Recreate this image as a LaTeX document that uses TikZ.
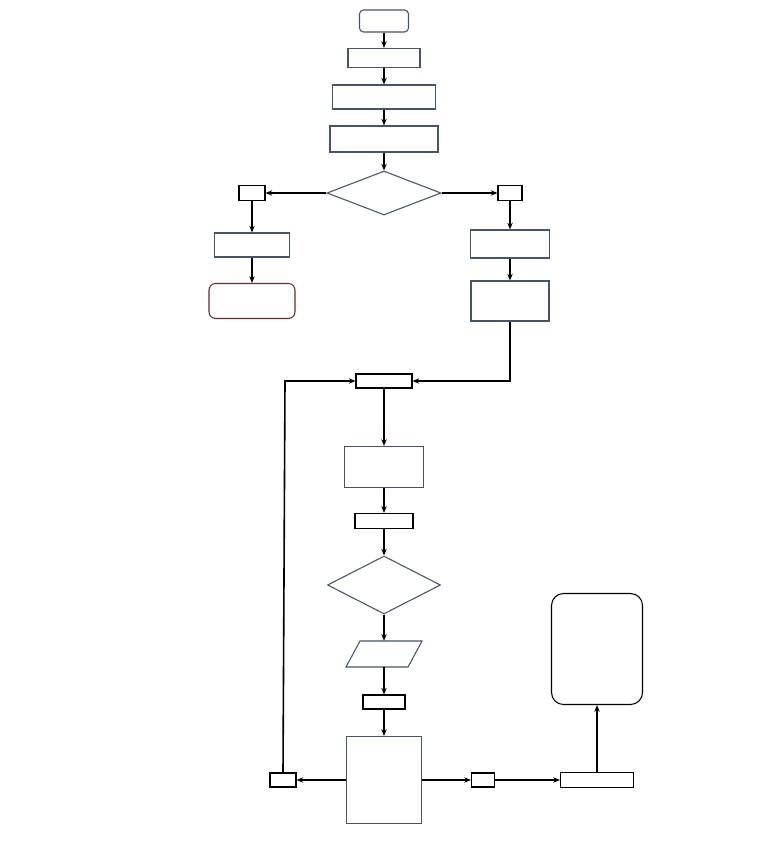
\documentclass[tikz,border=0pt]{standalone}
\usetikzlibrary{shapes.geometric,arrows.meta}
\definecolor{sl}{HTML}{44546A}
\definecolor{dr}{HTML}{6B2A2A}
\begin{document}
\begin{tikzpicture}[x=0.75pt,y=-0.75pt,
 bx/.style={draw=#1,line width=0.8pt,minimum width=0,minimum height=0,inner sep=0,rectangle,fill=white},
 bx/.default={sl},
 dm/.style={draw=sl,line width=0.8pt,diamond,aspect=2.6,inner sep=0,fill=white},
 ar/.style={-{Stealth[length=5pt,width=4pt]},line width=1.2pt}]
\useasboundingbox (0,0) rectangle (768,866);
\def\B#1#2#3#4#5{\node[bx,minimum width=#4*0.75pt,minimum height=#5*0.75pt] (#1) at (#2,#3) {};}
\node[bx=sl,rounded corners=3pt,minimum width=36.75pt,minimum height=16.5pt] (s) at (384,21) {};
\B{r1}{384}{58}{72}{19}
\B{r2}{384}{97}{103}{24}
\B{r3}{384}{139}{108}{26}
\node[dm,minimum width=85.5pt,minimum height=33pt] (d1) at (384,193) {};
\node[bx=black,minimum width=19.5pt,minimum height=11.25pt] (lb) at (252,193) {};
\node[bx=black,minimum width=18pt,minimum height=11.25pt] (rb) at (510,193) {};
\B{lr}{252}{245}{75}{24}
\node[bx=dr,rounded corners=5pt,minimum width=64.5pt,minimum height=26.25pt] (lrr) at (252,301) {};
\B{rr}{510}{244}{79}{28}
\B{rr2}{510}{301}{78}{40}
\node[bx=black,minimum width=42pt,minimum height=10.5pt] (j) at (384,381) {};
\B{m1}{384}{467}{79}{41}
\node[bx=black,minimum width=43.5pt,minimum height=11.25pt] (m2) at (384,521) {};
\node[dm,minimum width=84.75pt,minimum height=43.5pt] (d2) at (384,585) {};
\node[minimum width=42pt,minimum height=19.5pt,inner sep=0] (p) at (384,654) {};
\draw[draw=sl,line width=0.8pt] (360,641)--(422,641)--(408,667)--(346,667)--cycle;
\node[bx=black,minimum width=31.5pt,minimum height=10.5pt] (m3) at (384,702) {};
\B{t}{384}{780}{75}{87}
\node[bx=black,minimum width=19.5pt,minimum height=10.5pt] (tl) at (283,780) {};
\node[bx=black,minimum width=17.25pt,minimum height=10.5pt] (tr) at (483,780) {};
\node[bx=black,minimum width=54.75pt,minimum height=11.25pt] (tw) at (597,780) {};
\node[bx=black,rounded corners=9pt,minimum width=68.25pt,minimum height=83.25pt] (rt) at (597,649) {};
\draw[ar] (s)--(r1); \draw[ar] (r1)--(r2); \draw[ar] (r2)--(r3); \draw[ar] (r3)--(d1);
\draw[ar] (d1)--(lb); \draw[ar] (d1)--(rb);
\draw[ar] (lb)--(lr); \draw[ar] (lr)--(lrr);
\draw[ar] (rb)--(rr); \draw[ar] (rr)--(rr2);
\draw[ar] (rr2.south)--(510,381)--(j);
\draw[ar] (j)--(m1); \draw[ar] (m1)--(m2); \draw[ar] (m2)--(d2); \draw[ar] (d2)--(p);
\draw[ar] (p)--(m3); \draw[ar] (m3)--(t);
\draw[ar] (t)--(tl); \draw[ar] (tl.north)--(285,381)--(j);
\draw[ar] (t)--(tr); \draw[ar] (tr)--(tw); \draw[ar] (tw)--(rt);
\end{tikzpicture}
\end{document}
